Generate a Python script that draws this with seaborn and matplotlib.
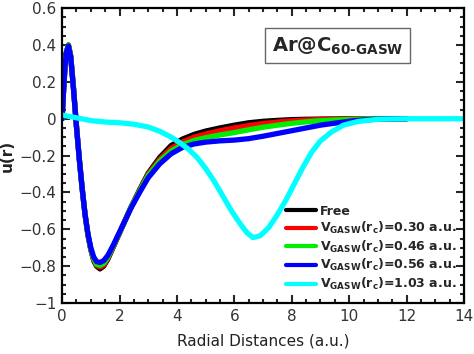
import matplotlib
matplotlib.use("Agg")
import matplotlib.pyplot as plt
from matplotlib.ticker import MultipleLocator
import seaborn as sns
import numpy as np
import pandas as pd

# radial grid for the four dark curves (a.u.)
r_in = [0.0, 0.05, 0.1, 0.15, 0.22, 0.3, 0.4, 0.5, 0.6, 0.7, 0.8, 0.9, 1.0, 1.1,
        1.2, 1.32, 1.45, 1.6, 1.8, 2.0, 2.2, 2.4, 2.7, 3.0, 3.4, 3.8, 4.2, 4.6,
        5.0, 5.5, 6.0, 6.5, 7.0, 7.5, 8.0, 8.5, 9.0, 9.6, 10.2, 11.0, 12.0]

u_free = [0.0, 0.15, 0.28, 0.36, 0.40, 0.34, 0.16, -0.04, -0.22, -0.38, -0.52, -0.63,
          -0.71, -0.77, -0.80, -0.815, -0.80, -0.76, -0.69, -0.62, -0.55, -0.48,
          -0.385, -0.295, -0.21, -0.145, -0.11, -0.085, -0.067, -0.05, -0.035,
          -0.022, -0.014, -0.009, -0.005, -0.003, -0.002, -0.001, 0.0, 0.0, 0.0]
u_030 = [0.0, 0.15, 0.28, 0.36, 0.40, 0.34, 0.16, -0.04, -0.22, -0.38, -0.52, -0.63,
         -0.71, -0.765, -0.795, -0.805, -0.795, -0.755, -0.69, -0.62, -0.55, -0.48,
         -0.39, -0.30, -0.22, -0.16, -0.125, -0.10, -0.083, -0.065, -0.05,
         -0.037, -0.026, -0.018, -0.011, -0.007, -0.004, -0.002, -0.001, 0.0, 0.0]
u_046 = [0.0, 0.15, 0.28, 0.36, 0.40, 0.34, 0.16, -0.04, -0.22, -0.38, -0.52, -0.63,
         -0.705, -0.76, -0.79, -0.795, -0.785, -0.75, -0.685, -0.62, -0.55, -0.48,
         -0.393, -0.307, -0.23, -0.175, -0.14, -0.118, -0.103, -0.088, -0.075,
         -0.06, -0.046, -0.035, -0.025, -0.017, -0.011, -0.006, -0.003, 0.0, 0.0]
u_056 = [0.0, 0.15, 0.28, 0.36, 0.395, 0.335, 0.155, -0.04, -0.22, -0.38, -0.52, -0.625,
         -0.70, -0.75, -0.775, -0.78, -0.77, -0.74, -0.68, -0.615, -0.55, -0.485,
         -0.40, -0.32, -0.245, -0.19, -0.155, -0.137, -0.127, -0.12, -0.116,
         -0.108, -0.095, -0.08, -0.065, -0.05, -0.035, -0.022, -0.01, -0.002, 0.0]

# radial grid and values for r_c = 1.03 a.u.
r_out = [0.0, 0.5, 1.0, 1.5, 2.0, 2.5, 3.0, 3.4, 3.8, 4.1, 4.4, 4.7, 5.0, 5.3, 5.6,
         5.9, 6.2, 6.45, 6.65, 6.9, 7.2, 7.5, 7.8, 8.1, 8.4, 8.7, 9.0, 9.4, 9.8,
         10.3, 11.0, 12.0, 13.0, 14.0]
u_103 = [0.02, 0.005, -0.01, -0.018, -0.022, -0.03, -0.045, -0.068, -0.10, -0.13,
         -0.165, -0.21, -0.27, -0.34, -0.42, -0.50, -0.57, -0.62, -0.645, -0.635,
         -0.59, -0.52, -0.44, -0.35, -0.26, -0.18, -0.12, -0.07, -0.035, -0.015,
         -0.003, 0.0, 0.0, 0.0]

labels = ["Free",
          r"$\mathbf{V_{GASW}(r_c)}$=0.30 a.u.",
          r"$\mathbf{V_{GASW}(r_c)}$=0.46 a.u.",
          r"$\mathbf{V_{GASW}(r_c)}$=0.56 a.u.",
          r"$\mathbf{V_{GASW}(r_c)}$=1.03 a.u."]
colors = ["#000000", "#ff0000", "#00ee00", "#0000ff", "#00ffff"]

frames = []
for lab, rr, uu in zip(labels,
                       [r_in, r_in, r_in, r_in, r_out],
                       [u_free, u_030, u_046, u_056, u_103]):
    frames.append(pd.DataFrame({"r": rr, "u": uu, "curve": lab}))
df = pd.concat(frames, ignore_index=True)

sns.set_style("ticks")
plt.rcParams["font.family"] = ["DejaVu Sans"]
plt.rcParams["mathtext.fontset"] = "dejavusans"

fig = plt.figure(figsize=(4.74, 3.54), dpi=100)
ax = fig.add_axes([0.131, 0.144, 0.848, 0.833])

sns.lineplot(data=df, x="r", y="u", hue="curve", hue_order=labels,
             palette=colors, sort=False, estimator=None, lw=3.8, ax=ax)

ax.set_xlim(0, 14)
ax.set_ylim(-1, 0.6)
ax.xaxis.set_major_locator(MultipleLocator(2))
ax.xaxis.set_minor_locator(MultipleLocator(0.5))
ax.yaxis.set_major_locator(MultipleLocator(0.2))
ax.yaxis.set_minor_locator(MultipleLocator(0.05))
ax.set_yticks(np.arange(-1, 0.61, 0.2))
ax.set_yticklabels(["\u22121", "\u22120.8", "\u22120.6", "\u22120.4", "\u22120.2",
                    "0", "0.2", "0.4", "0.6"])
ax.tick_params(which="both", direction="in", top=True, right=True, width=1.5,
               labelsize=11, labelcolor="#333333", pad=4)
ax.tick_params(which="major", length=6)
ax.tick_params(which="minor", length=3)
for s in ax.spines.values():
    s.set_linewidth(1.6)
    s.set_color("black")

ax.set_xlabel("Radial Distances (a.u.)", fontsize=11, color="#222222", labelpad=7)
ax.set_ylabel("u(r)", fontsize=11, fontweight="bold", color="#222222")
ax.yaxis.set_label_coords(-0.118, 0.5)

ax.text(0.685, 0.872, "$\\mathbf{Ar@C_{60\u2010GASW}}$", transform=ax.transAxes,
        ha="center", va="center", fontsize=14,
        bbox=dict(boxstyle="square,pad=0.35", fc="white", ec="#666666", lw=1))

leg = ax.legend(loc="lower right", bbox_to_anchor=(1.0, 0.012), frameon=False,
                prop={"size": 9, "weight": "bold"}, handlelength=2.4,
                handletextpad=0.3, labelspacing=0.2, borderaxespad=0.2)
for h in leg.get_lines():
    h.set_linewidth(3)

fig.savefig("out.png", dpi=100)
